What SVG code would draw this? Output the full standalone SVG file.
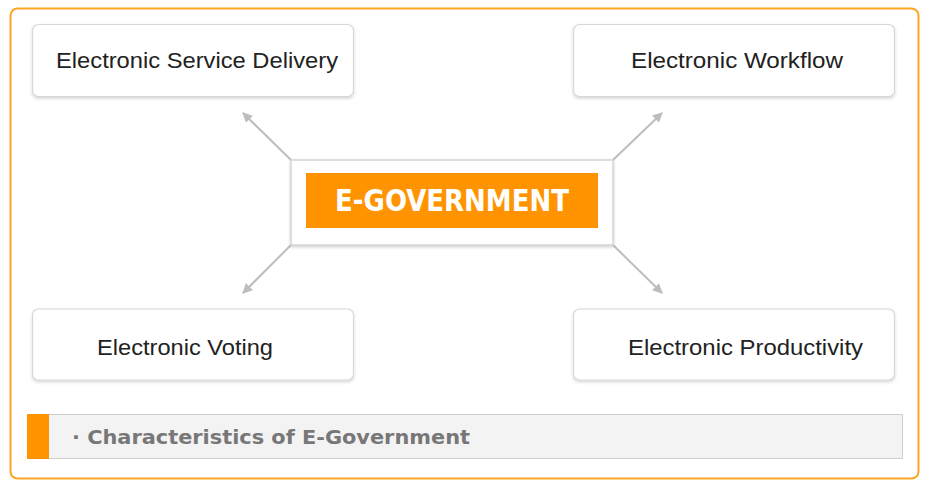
<svg xmlns="http://www.w3.org/2000/svg" width="934" height="490" viewBox="0 0 934 490">
<defs>
<style>
.box{fill:#fff;stroke:#d8d8d8;stroke-width:1.2;filter:url(#sh)}
.lbl{font-family:"Liberation Sans",Arial,sans-serif;font-size:22px;fill:#222}
.conn{stroke:#bdbdbd;stroke-width:2;fill:none;marker-end:url(#ah)}
</style>
<filter id="sh" x="-5%" y="-10%" width="110%" height="130%">
<feDropShadow dx="0" dy="1.5" stdDeviation="1.5" flood-color="#000" flood-opacity="0.18"/>
</filter>
<marker id="ah" viewBox="0 0 10 10" refX="9" refY="5" markerWidth="11" markerHeight="10" markerUnits="userSpaceOnUse" orient="auto">
<path d="M0,0 L10,5 L0,10 z" fill="#bdbdbd"/>
</marker>
</defs>
<rect x="0" y="0" width="934" height="490" fill="#fff"/>
<rect x="10.5" y="8.5" width="908" height="470" rx="7" fill="#fff" stroke="#ffa526" stroke-width="2"/>

<g id="connectors">
<line class="conn" x1="291" y1="160" x2="243" y2="113"/>
<line class="conn" x1="613" y1="160" x2="662" y2="113"/>
<line class="conn" x1="291" y1="245" x2="243" y2="293"/>
<line class="conn" x1="613" y1="245" x2="662" y2="293"/>
</g>

<g id="center">
<rect x="291" y="160" width="322" height="85" fill="#fff" stroke="#d4d4d4" stroke-width="1.5" filter="url(#sh)"/>
<rect x="306" y="173" width="292" height="55" fill="#ff9400"/>
<text x="452" y="211" text-anchor="middle" font-family="'DejaVu Sans Condensed','DejaVu Sans',sans-serif" font-weight="bold" font-size="30" fill="#fff" textLength="234" lengthAdjust="spacingAndGlyphs">E-GOVERNMENT</text>
</g>

<g id="node-service">
<rect class="box" x="32.5" y="24.5" width="321" height="72" rx="6"/>
<text class="lbl" x="56" y="68" textLength="282" lengthAdjust="spacingAndGlyphs">Electronic Service Delivery</text>
</g>

<g id="node-workflow">
<rect class="box" x="573.5" y="24.5" width="321" height="72" rx="6"/>
<text class="lbl" x="631" y="68" textLength="212" lengthAdjust="spacingAndGlyphs">Electronic Workflow</text>
</g>

<g id="node-voting">
<rect class="box" x="32.5" y="309" width="321" height="71" rx="6"/>
<text class="lbl" x="97" y="355" textLength="176" lengthAdjust="spacingAndGlyphs">Electronic Voting</text>
</g>

<g id="node-productivity">
<rect class="box" x="573.5" y="309" width="321" height="71" rx="6"/>
<text class="lbl" x="628" y="355" textLength="235" lengthAdjust="spacingAndGlyphs">Electronic Productivity</text>
</g>

<g id="caption">
<rect x="27.5" y="414.5" width="875" height="44" fill="#f3f3f3" stroke="#cfcfcf" stroke-width="1"/>
<rect x="27" y="414" width="22" height="45" fill="#ff9400"/>
<text x="72" y="444" font-family="'DejaVu Sans Condensed','DejaVu Sans',sans-serif" font-weight="bold" font-size="19" fill="#777" textLength="398" lengthAdjust="spacingAndGlyphs">· Characteristics of E-Government</text>
</g>
</svg>
